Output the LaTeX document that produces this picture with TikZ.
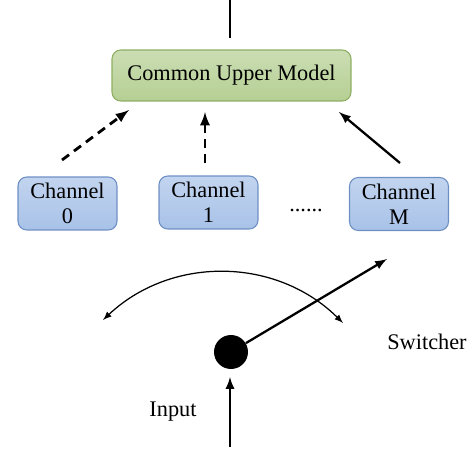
\documentclass[tikz,border=0pt]{standalone}
\usepackage{fontspec}
\setmainfont{Liberation Serif}
\usetikzlibrary{arrows}
\definecolor{upfill}{HTML}{B5CF93}
\definecolor{upline}{HTML}{8EAE62}
\definecolor{chfill}{HTML}{A8C2E8}
\definecolor{chline}{HTML}{6E8FC4}
\tikzstyle{upper}=[rectangle, rounded corners=5pt, draw=upline, line width=0.6pt, top color=upfill!70!white, bottom color=upfill, minimum width=4.78cm, minimum height=1.02cm, font=\fontsize{12.7}{14.5}\selectfont]
\tikzstyle{chan}=[rectangle, rounded corners=5pt, draw=chline, line width=0.6pt, top color=chfill!70!white, bottom color=chfill, minimum width=1.98cm, minimum height=1.06cm, align=center, inner sep=1pt, font=\fontsize{12.7}{14.5}\selectfont]
\tikzstyle{lbl}=[font=\fontsize{12.7}{14.5}\selectfont]
\tikzstyle{dashlink}=[dash pattern=on 5pt off 3.5pt, line width=1.6pt]
\newcommand{\chan}{\node[chan]}

\begin{document}
\begin{tikzpicture}[x=0.02cm, y=-0.02cm
  ,every edge/.style={draw, line width=1.3pt, -latex}
]
\useasboundingbox (0,0) rectangle (474,474);
\node[upper] (up) at (231.5,75.5) {Common Upper Model};
\chan (c0) at (67.5,203.5) {Channel\\0};
\chan (c1) at (208.5,202.5) {Channel\\1};
\chan (cM) at (399,204) {Channel\\M};
\node[lbl, anchor=base] (dots) at (306,211) {......};
\node[circle, fill=black, minimum size=0.68cm, inner sep=0pt] (sw) at (231,352) {};
\node[lbl] (sname) at (427,342) {Switcher};
\node[lbl] (iname) at (173,412) {Input};
\coordinate (top) at (230,0);
\coordinate (topend) at (230,38);
\coordinate (a0) at (62,160);
\coordinate (b0) at (129,110);
\coordinate (a1) at (205,163);
\coordinate (b1) at (205,112);
\coordinate (aM) at (400,163);
\coordinate (bM) at (339,112);
\coordinate (arcl) at (103,320);
\coordinate (arcr) at (343,323);
\coordinate (swend) at (387,259);
\coordinate (inp) at (230,447);
\coordinate (inpend) at (230,377);
\draw[line width=1.3pt] (top) -- (topend);
\path
(a0) edge[dashlink] (b0)
(a1) edge[dashlink] (b1)
(aM) edge (bM)
(sw) edge (swend)
(inp) edge (inpend)
;
\draw[line width=0.7pt, latex-latex] (arcl) to[bend left=44] (arcr);
\end{tikzpicture}
\end{document}
